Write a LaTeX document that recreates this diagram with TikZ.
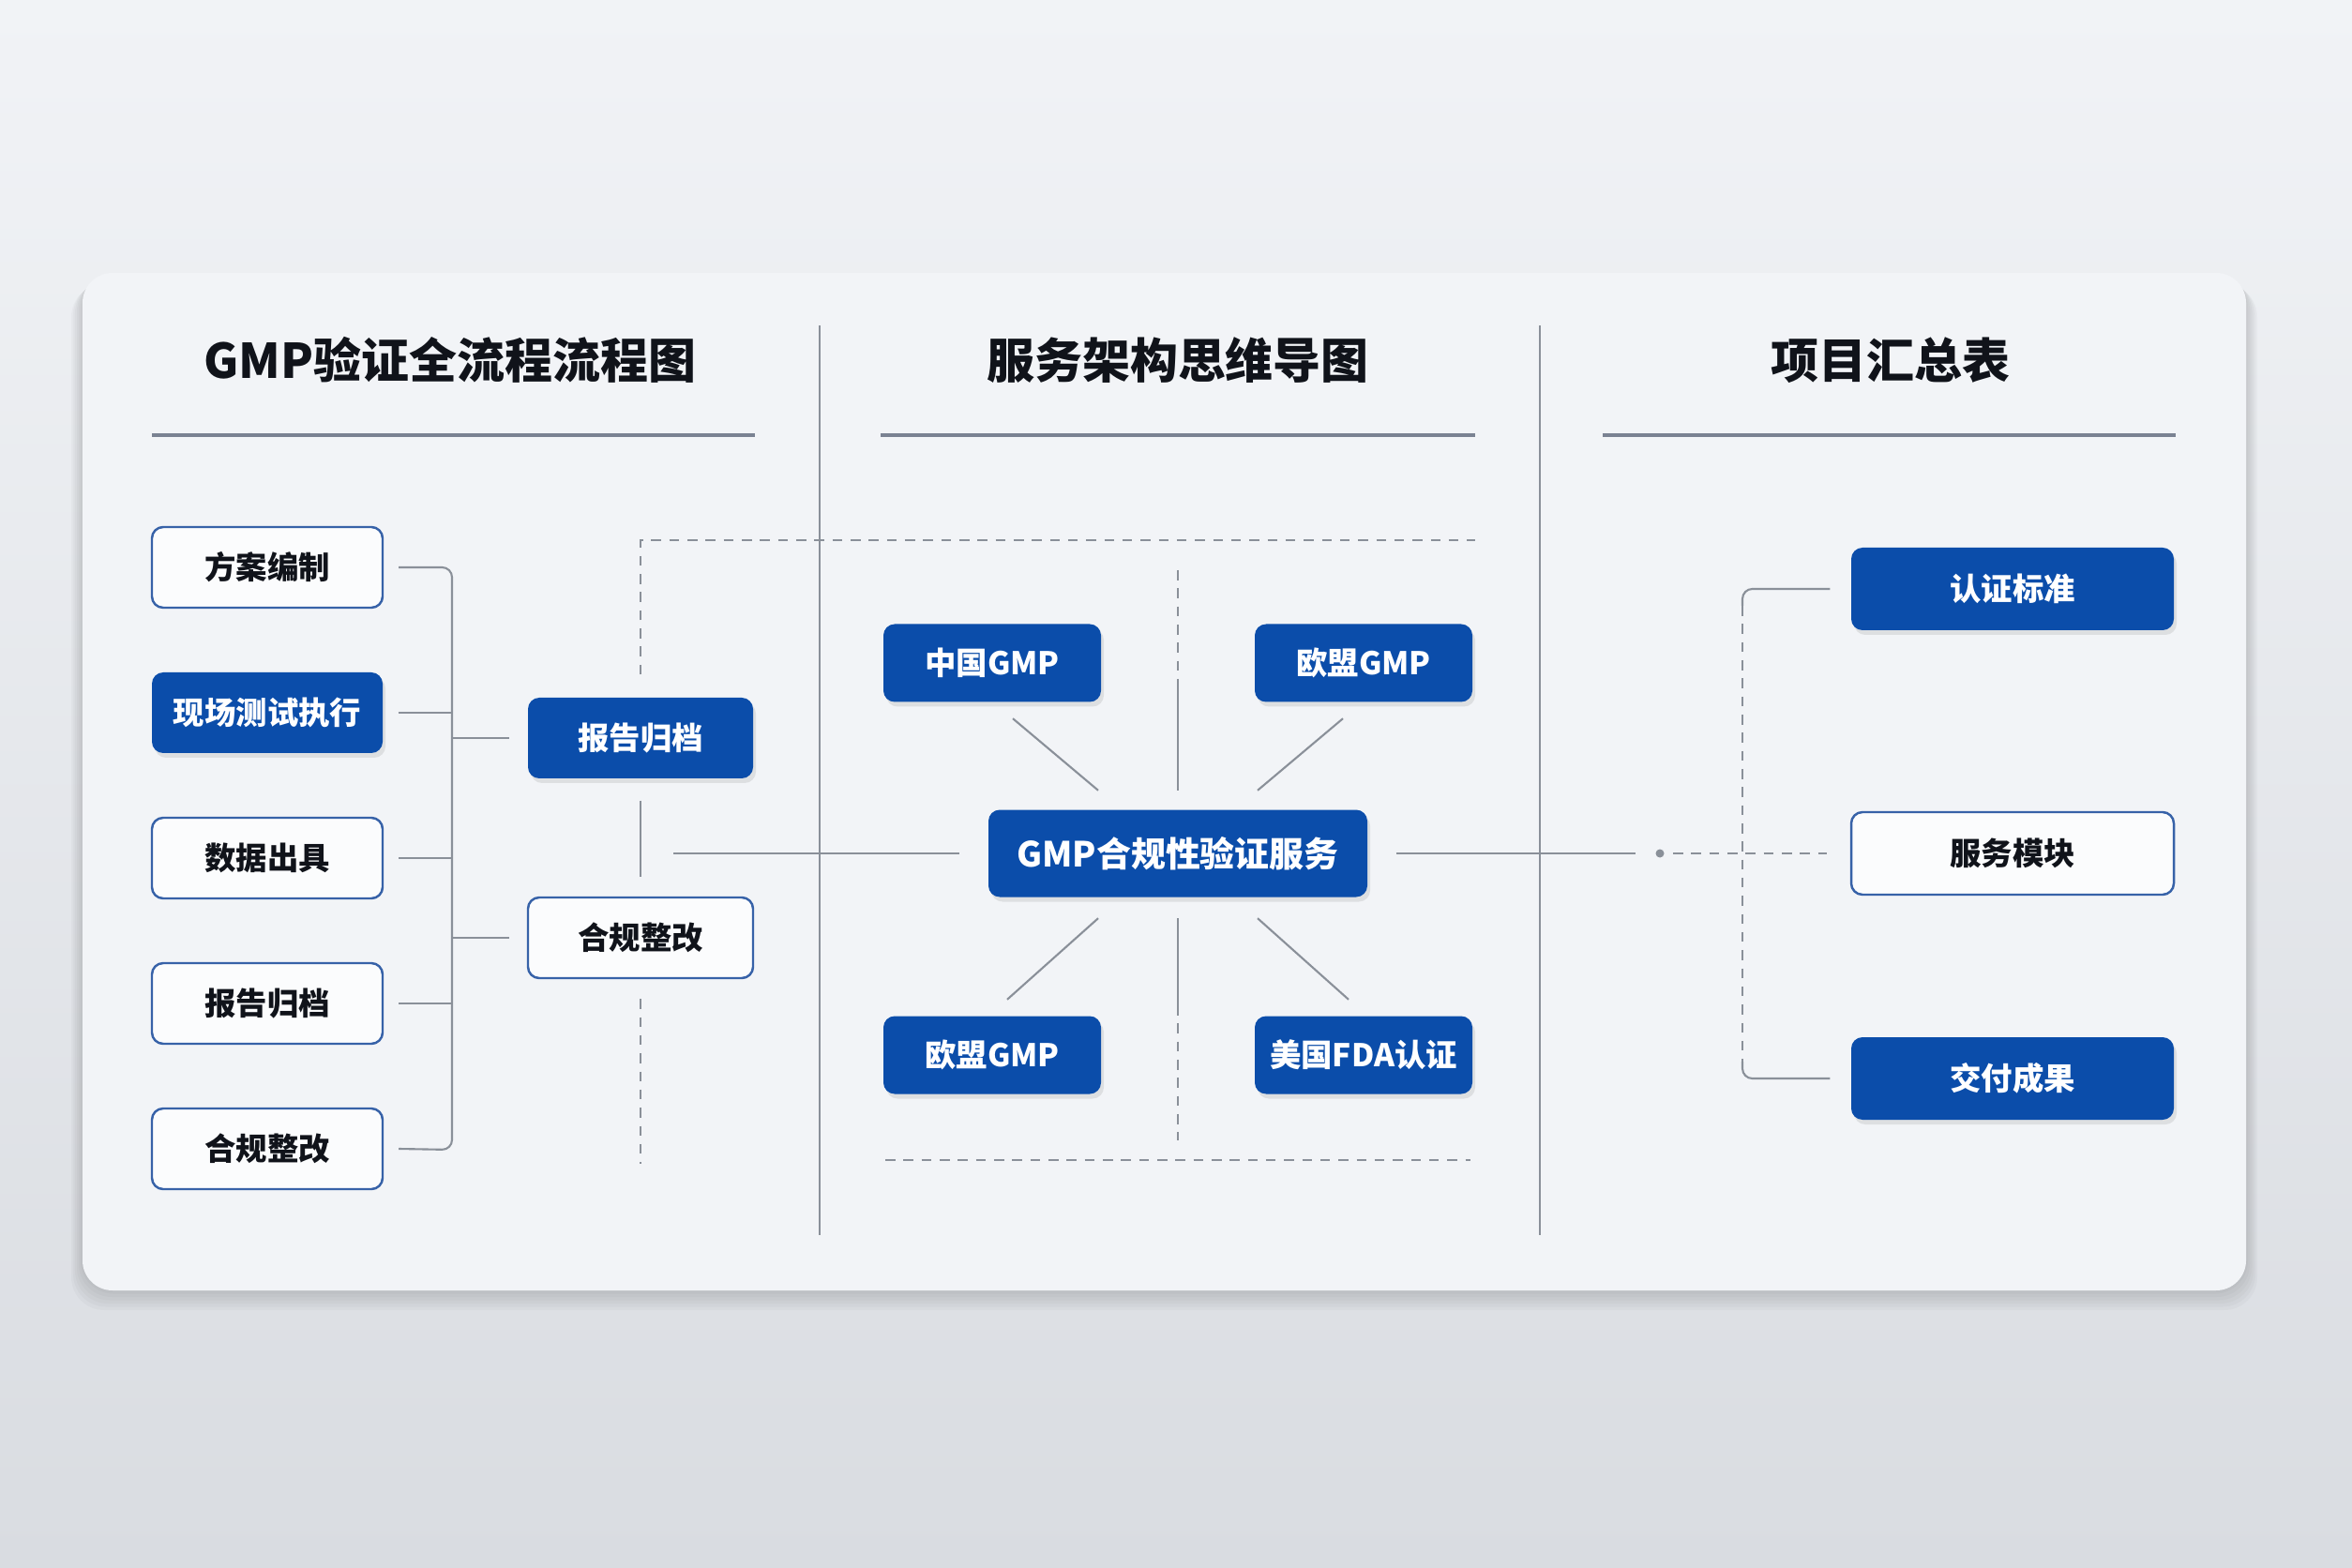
\documentclass[tikz,border=0pt]{standalone}
\usepackage{fontspec}
\setmainfont{Noto Sans CJK SC}
\usetikzlibrary{positioning, shadows}

\definecolor{pagetop}{HTML}{F1F3F6}
\definecolor{pagebot}{HTML}{D9DCE1}
\definecolor{cardbg}{HTML}{F2F4F7}
\definecolor{boxblue}{HTML}{0B4DAA}
\definecolor{edgeblue}{HTML}{3762A8}
\definecolor{linegray}{HTML}{8A9099}
\definecolor{rulegray}{HTML}{7A8292}
\definecolor{inkdark}{HTML}{10131A}

\tikzset{
  boxbase/.style={rectangle, rounded corners=0.12cm, font=\bfseries\fontsize{9.5}{11}\selectfont,
    minimum width=2.46cm, minimum height=0.86cm, inner sep=0pt},
  fillbox/.style={boxbase, fill=boxblue, text=white,
    drop shadow={opacity=0.18, shadow xshift=0.03cm, shadow yshift=-0.05cm}},
  outbox/.style={boxbase, fill=white!70!cardbg, draw=edgeblue, line width=0.7pt, text=inkdark},
  hubbox/.style={fillbox, minimum width=4.04cm, minimum height=0.93cm, font=\bfseries\fontsize{10.5}{12}\selectfont},
  satbox/.style={fillbox, minimum width=2.32cm, minimum height=0.83cm},
  sumbox/.style={minimum width=3.44cm, minimum height=0.88cm},
  heading/.style={font=\bfseries\fontsize{14.5}{17}\selectfont, text=inkdark},
  rule/.style={rulegray, line width=1pt},
  link/.style={linegray, line width=0.6pt},
  dlink/.style={link, dash pattern=on 3pt off 2.5pt},
}

\begin{document}
\begin{tikzpicture}[node distance=1.55cm, on grid]

% page and card
\useasboundingbox (0,0) rectangle (25.08,-16.72);
\shade[top color=pagetop, bottom color=pagebot] (0,0) rectangle (25.08,-16.72);
\foreach \s in {1,...,6}
  \fill[black, opacity=0.025, rounded corners=0.35cm]
    (0.88-0.02*\s,-2.91-0.02*\s) rectangle (23.95+0.02*\s,-13.76-0.035*\s);
\fill[cardbg, rounded corners=0.32cm] (0.88,-2.91) rectangle (23.95,-13.76);

% headings
\node[heading] (h1) at (4.80,-3.84) {GMP验证全流程流程图};
\node[heading] (h2) at (12.56,-3.84) {服务架构思维导图};
\node[heading] (h3) at (20.16,-3.84) {项目汇总表};
\draw[rule] (1.62,-4.64) -- (8.05,-4.64);
\draw[rule] (9.39,-4.64) -- (15.73,-4.64);
\draw[rule] (17.09,-4.64) -- (23.20,-4.64);
\draw[link] (8.74,-3.47) -- (8.74,-13.17);
\draw[link] (16.42,-3.47) -- (16.42,-13.17);

% flow chart
\node[outbox] (s1) at (2.85,-6.05) {方案编制};
\node[fillbox, below=of s1] (s2) {现场测试执行};
\node[outbox, below=of s2] (s3) {数据出具};
\node[outbox, below=of s3] (s4) {报告归档};
\node[outbox, below=of s4] (s5) {合规整改};

\node[fillbox, minimum width=2.40cm] (m1) at (6.83,-7.87) {报告归档};
\node[outbox, minimum width=2.40cm, below=2.13cm of m1] (m2) {合规整改};

\coordinate (lb1) at (4.82,-6.05);
\coordinate (lb5) at (4.82,-12.26);
\draw[link, rounded corners=3pt] ([xshift=0.16cm]s1.east) -- (lb1) -- (lb5) -- ([xshift=0.16cm]s5.east);
\foreach \n in {s2,s3,s4}
  \draw[link] ([xshift=0.16cm]\n.east) -- (lb1 |- \n.east);
\draw[link] (lb1 |- m1.west) -- ([xshift=-0.19cm]m1.west);
\draw[link] (lb1 |- m2.west) -- ([xshift=-0.19cm]m2.west);
\draw[link] ([yshift=-0.23cm]m1.south) -- ([yshift=0.21cm]m2.north);
\draw[dlink] ([yshift=0.24cm]m1.north) |- (15.73,-5.76);
\draw[dlink] ([yshift=-0.21cm]m2.south) -- ++(0,-1.76);

% mind map
\node[hubbox] (c) at (12.56,-9.10) {GMP合规性验证服务};
\node[satbox, above left=2.03cm and 1.98cm of c] (t1) {中国GMP};
\node[satbox, above right=2.03cm and 1.98cm of c] (t2) {欧盟GMP};
\node[satbox, below left=2.15cm and 1.98cm of c] (t3) {欧盟GMP};
\node[satbox, below right=2.15cm and 1.98cm of c] (t4) {美国FDA认证};

\coordinate (mj) at (6.83,-9.10);
\draw[link] ([xshift=0.35cm]mj) -- ([xshift=-0.30cm]c.west);
\draw[link] ([shift={(0.22,-0.17)}]t1.south) -- ([shift={(-0.85,0.20)}]c.north);
\draw[link] ([shift={(-0.22,-0.17)}]t2.south) -- ([shift={(0.85,0.20)}]c.north);
\draw[link] ([shift={(-0.85,-0.22)}]c.south) -- ([shift={(0.16,0.17)}]t3.north);
\draw[link] ([shift={(0.85,-0.22)}]c.south) -- ([shift={(-0.16,0.17)}]t4.north);
\draw[dlink] (12.56,-6.08) -- (12.56,-7.33);
\draw[link] (12.56,-7.33) -- ([yshift=0.20cm]c.north);
\draw[link] ([yshift=-0.22cm]c.south) -- (12.56,-10.72);
\draw[dlink] (12.56,-10.72) -- (12.56,-12.16);
\draw[dlink] (9.44,-12.37) -- (15.68,-12.37);

% summary
\node[outbox, sumbox] (r2) at (21.46,-9.10) {服务模块};
\node[fillbox, sumbox, above=2.82cm of r2] (r1) {认证标准};
\node[fillbox, sumbox, below=2.40cm of r2] (r3) {交付成果};

\coordinate (dot) at (17.70,-9.10);
\coordinate (rb1) at (18.58,-6.28);
\coordinate (rb3) at (18.58,-11.50);
\draw[link] ([xshift=0.30cm]c.east) -- ([xshift=-0.26cm]dot);
\fill[linegray] (dot) circle (0.045);
\draw[dlink] ([xshift=0.14cm]dot) -- ([xshift=-0.25cm]r2.west);
\draw[link, rounded corners=3pt] ([xshift=-0.22cm]r1.west) -- (rb1) -- ++(0,-0.18);
\draw[link, rounded corners=3pt] ([xshift=-0.22cm]r3.west) -- (rb3) -- ++(0,0.18);
\draw[dlink] ([yshift=-0.18cm]rb1) -- ([yshift=0.18cm]rb3);

\end{tikzpicture}
\end{document}
